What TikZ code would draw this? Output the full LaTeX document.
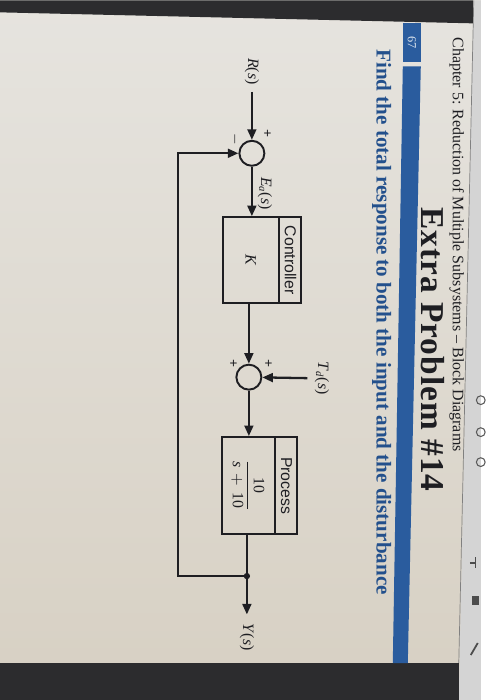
\documentclass[tikz,border=0pt]{standalone}
\usepackage{amsmath}
\usepackage{fontspec}
\setmainfont{Liberation Serif}
\newfontfamily\labelsans{Liberation Sans}
\usetikzlibrary{positioning,arrows.meta,calc}

\definecolor{screenbg}{HTML}{E6E4DF}
\definecolor{screenlow}{HTML}{D7D0C3}
\definecolor{bezel}{HTML}{2C2C2E}
\definecolor{toolbar}{HTML}{D4D4D4}
\definecolor{headblue}{HTML}{2A5C9E}
\definecolor{textblue}{HTML}{23508C}
\definecolor{ink}{HTML}{1E1E22}

\begin{document}
\begin{tikzpicture}[
        x=0.02cm, y=-0.02cm,
        sumjn/.style={circle, draw=ink, line width=1.1pt, minimum size=0.5cm, inner sep=0pt},
        blockbox/.style={draw=ink, line width=1.2pt, inner sep=0pt},
        sig/.style={draw=ink, line width=1.3pt, -{Triangle[length=6pt, width=5pt]}},
        wire/.style={draw=ink, line width=1.3pt},
        vlabel/.style={rotate=-90, inner sep=1pt, text=ink, font=\small},
        sgn/.style={rotate=-90, inner sep=0pt, text=ink, font=\footnotesize\bfseries}
    ]
        % screen
        \shade[top color=screenbg, bottom color=screenlow] (0,0) rectangle (481,700);
        \fill[toolbar] (474,0) -- (481,0) -- (481,700) -- (459,700) -- cycle;
        \draw[gray, line width=0.4pt] (474,0) -- (459,663);
        \fill[bezel] (0,0) -- (473,0) -- (473,23) -- (0,12) -- cycle;
        \fill[bezel] (0,663) rectangle (459,700);
        \foreach \yy in {400,432,462} \draw[gray!70!black, line width=0.6pt] (481,\yy) circle (2.5pt);
        \draw[gray!60!black, line width=0.7pt] (476,557) -- (476,568) (470,563) -- (476,563);
        \fill[gray!60!black] (472,596) rectangle (479,605);
        \draw[gray!60!black, line width=1pt] (471,655) -- (478,643);

        % heading
        \fill[headblue] (403,23) rectangle (421,62);
        \fill[headblue] (403,66) -- (421,66) -- (408,663) -- (393,663) -- cycle;
        \node[rotate=-90, text=white!85!headblue, font=\scriptsize] (page) at (412,42) {67};
        \node[rotate=-90, anchor=west, text=ink, font=\fontsize{9.1}{11}\selectfont] (chap)
            at (457,31) {Chapter 5: Reduction of Multiple Subsystems -- Block Diagrams};
        \node[rotate=-90, anchor=west, text=ink, font=\fontsize{19}{21}\selectfont\bfseries\addfontfeature{LetterSpace=3}] (title)
            at (433,201) {Extra Problem \#14};
        \node[rotate=-90, anchor=west, text=textblue, font=\fontsize{12}{14}\selectfont\bfseries] (task)
            at (382,43) {Find the total response to both the input and the disturbance};

        % blocks
        \node[sumjn] (sumA) at (252,153) {};
        \node[sumjn] (sumB) at (249,377) {};
        \node[blockbox, minimum width=1.56cm, minimum height=1.72cm] (ctrl) at (262,260) {};
        \node[blockbox, minimum width=1.5cm, minimum height=1.94cm] (proc) at (259.5,485.5) {};
        \draw[wire, line width=1pt] ([xshift=-0.46cm]ctrl.north east) -- ([xshift=-0.46cm]ctrl.south east);
        \draw[wire, line width=1pt] ([xshift=-0.46cm]proc.north east) -- ([xshift=-0.46cm]proc.south east);
        \node[vlabel, font=\labelsans\small] (ctrlname) at ([xshift=-0.23cm]ctrl.east) {Controller};
        \node[vlabel, font=\labelsans\small] (procname) at ([xshift=-0.23cm]proc.east) {Process};
        \node[vlabel] (gainK) at (251,260) {\textit{K}};
        \node[vlabel] (gainP) at (248,485) {$\dfrac{\text{10}}{\textit{s}\,+\,\text{10}}$};

        % signals
        \node[vlabel] (rin) at (252,71) {\textit{R}(\textit{s})};
        \node[vlabel] (ea) at (265,193) {\textit{E}\textsubscript{\textit{a}}(\textit{s})};
        \node[vlabel] (td) at (322,378) {\textit{T}\textsubscript{\textit{d}}(\textit{s})};
        \node[vlabel] (yout) at (247,637) {\textit{Y}(\textit{s})};
        \coordinate (branch) at (247,576);
        \coordinate (fbcorner) at (178,576);
        \coordinate (fbtop) at (178,153);

        \node[sgn] (pA) at (267,133) {+};
        \node[sgn] (mA) at (235,139) {$-$};
        \node[sgn] (pB1) at (233,363) {+};
        \node[sgn] (pB2) at (268,363) {+};

        \draw[sig] ([yshift=-3pt]rin.east) -- (sumA.north);
        \draw[sig] (sumA) -- (sumA |- ctrl.north);
        \draw[sig] (ctrl.south -| sumB) -- (sumB);
        \draw[sig] ([xshift=-3pt]td.south) -- (sumB);
        \draw[sig] (sumB) -- (sumB |- proc.north);
        \draw[wire] (proc.south -| branch) -- (branch);
        \draw[sig] (branch) -- ([yshift=4pt]yout.west);
        \draw[sig] (branch) -- (fbcorner) -- (fbtop) -- (sumA.west);
        \fill[ink] (branch) circle (1.8pt);
    \end{tikzpicture}
\end{document}
